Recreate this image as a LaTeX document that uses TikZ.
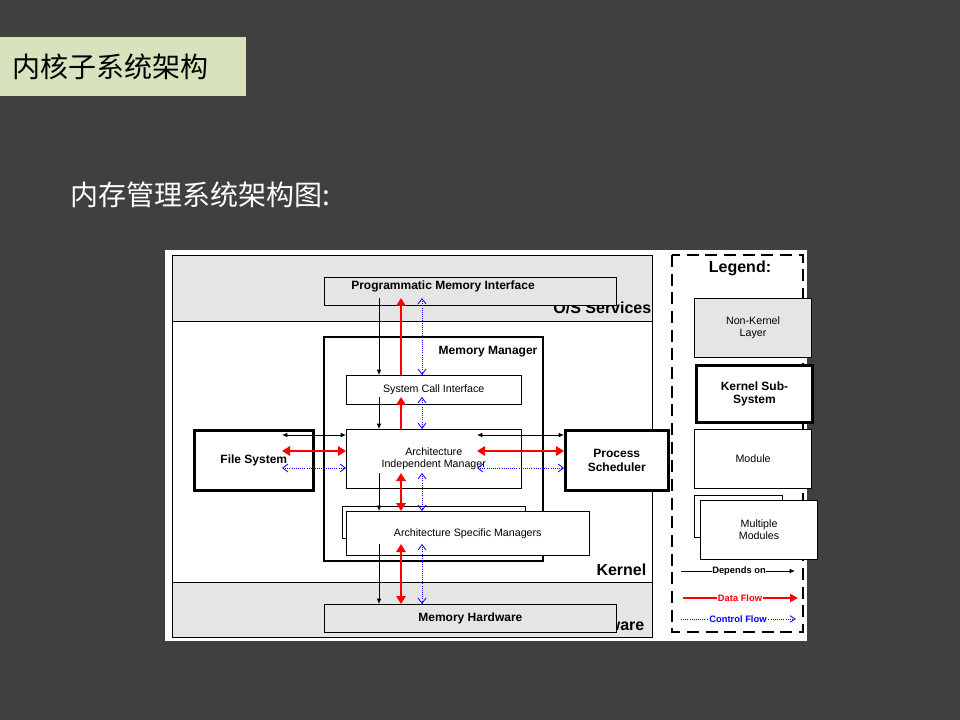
\documentclass[tikz,border=0pt]{standalone}
\usepackage{fontspec}
\setmainfont{Liberation Sans}
\newfontfamily\cjk{Noto Sans CJK SC}
\usetikzlibrary{arrows.meta}
\begin{document}
\begin{tikzpicture}[x=0.75pt,y=-0.75pt,
  box/.style={draw,line width=0.6pt,fill=white,inner sep=0pt},
  kbox/.style={draw,line width=2.2pt,fill=white,inner sep=0pt},
  gbox/.style={draw,line width=0.6pt,fill=black!10,inner sep=0pt},
  dep/.style={line width=0.6pt,-{Latex[length=4pt,width=3.5pt]}},
  ddep/.style={line width=0.6pt,{Latex[length=4pt,width=3.5pt]}-{Latex[length=4pt,width=3.5pt]}},
  data/.style={red,line width=2pt,-{Triangle[length=6pt,width=7pt]}},
  ddata/.style={red,line width=2pt,{Triangle[length=6pt,width=7pt]}-{Triangle[length=6pt,width=7pt]}},
  ctl/.style={blue,line width=0.6pt,densely dotted,{Straight Barb[length=4pt,width=6pt]}-{Straight Barb[length=4pt,width=6pt]}},
  lbl/.style={font=\bfseries\fontsize{9}{10}\selectfont},
  mod/.style={font=\fontsize{8}{9.5}\selectfont,align=center}]
\fill[black!75] (0,0) rectangle (960,720);
\useasboundingbox (0,0) rectangle (960,720);
\fill[fill={rgb,255:red,214;green,227;blue,188}] (0,37) rectangle (246,96);
\node[anchor=west,font=\cjk\fontsize{21}{24}\selectfont] (title) at (8,67) {内核子系统架构};
\node[anchor=west,text=white,font=\cjk\fontsize{21}{24}\selectfont] (sub) at (66,195) {内存管理系统架构图:};
% panel
\fill[white] (165,250) rectangle (807,641);
\draw[line width=0.6pt,fill=white] (172,255) rectangle (652,637);
\draw[line width=0.6pt,fill=black!10] (172,255) rectangle (652,321);
\draw[line width=0.6pt,fill=black!10] (172,582) rectangle (652,637);
\node[anchor=east,font=\bfseries\fontsize{12}{13}\selectfont] (os) at (656,308) {O/S Services};
\node[anchor=east,font=\bfseries\fontsize{12}{13}\selectfont] (kern) at (651,570) {Kernel};
\node[anchor=east,font=\bfseries\fontsize{12}{13}\selectfont] (hw) at (649,625) {Hardware};
% memory manager
\draw[line width=2.2pt] (324,337) rectangle (543,561);
\node[lbl,anchor=west] (mml) at (434,352) {Memory Manager};
\node[gbox,minimum width=219,minimum height=21,anchor=north west] (pmi) at (324,277) {};
\node[lbl] at (443,286) {Programmatic Memory Interface};
\node[box,minimum width=131,minimum height=22,anchor=north west,mod] (sci) at (346,375) {System Call Interface};
\node[box,minimum width=131,minimum height=44,anchor=north west,mod] (aim) at (346,429) {Architecture\\Independent Manager};
\draw[line width=0.6pt,fill=white] (342,506) rectangle (525,538);
\node[box,minimum width=182,minimum height=33,anchor=north west,mod] (asm) at (346,511) {Architecture Specific Managers};
\node[gbox,minimum width=219,minimum height=21,anchor=north west,lbl] (mh) at (324,604) {Memory Hardware};
\node[kbox,minimum width=89,minimum height=45,anchor=north west,lbl] (fs) at (193,429) {File System};
\node[kbox,minimum width=77,minimum height=45,anchor=north west,lbl,align=center] (ps) at (564,429) {Process\\Scheduler};
% vertical connectors
\draw[dep] (379,298) -- (379,375);
\draw[dep] (379,397) -- (379,429);
\draw[dep] (379,473) -- (379,511);
\draw[dep] (379,544) -- (379,604);
\draw[data] (401,375) -- (401,298);
\draw[data] (401,429) -- (401,397);
\draw[ddata] (401,473) -- (401,511);
\draw[ddata] (401,544) -- (401,604);
\draw[ctl] (422,298) -- (422,375);
\draw[ctl] (422,397) -- (422,429);
\draw[ctl] (422,473) -- (422,511);
\draw[ctl] (422,544) -- (422,604);
% horizontal
\draw[ddep] (282,435) -- (346,435);
\draw[ddata] (282,451) -- (346,451);
\draw[ctl] (282,468) -- (346,468);
\draw[ddep] (477,435) -- (564,435);
\draw[ddata] (477,451) -- (564,451);
\draw[ctl] (477,468) -- (564,468);
% legend
\draw[line width=2pt,dash pattern=on 9pt off 5pt] (672,255) rectangle (803,632);
\node[font=\bfseries\fontsize{12}{13}\selectfont] (leg) at (740,268) {Legend:};
\node[gbox,minimum width=88,minimum height=44,anchor=north west,mod] (l1) at (694,298) {Non-Kernel\\Layer};
\node[kbox,minimum width=87,minimum height=43,anchor=north west,lbl,align=center] (l2) at (695,364) {Kernel Sub-\\System};
\node[box,minimum width=88,minimum height=44,anchor=north west,mod] (l3) at (694,429) {Module};
\draw[line width=0.6pt,fill=white] (694,495) rectangle (782,537);
\node[box,minimum width=88,minimum height=44,anchor=north west,mod] (l4) at (700,500) {Multiple\\Modules};
\coordinate (a1) at (681,571); \coordinate (a2) at (795,571);
\draw[dep] (a1) -- (a2);
\node[fill=white,inner sep=0.5pt,font=\bfseries\fontsize{7}{8}\selectfont] at (739,571) {Depends on};
\coordinate (b1) at (683,598); \coordinate (b2) at (798,598);
\draw[red,line width=1.5pt,-{Triangle[length=6pt,width=6pt]}] (b1) -- (b2);
\node[fill=white,inner sep=0.5pt,text=red,font=\bfseries\fontsize{7}{8}\selectfont] at (740,598) {Data Flow};
\coordinate (c1) at (681,619); \coordinate (c2) at (796,619);
\draw[blue,densely dotted,line width=0.6pt,-{Straight Barb[length=4pt,width=5pt]}] (c1) -- (c2);
\node[fill=white,inner sep=0.5pt,text=blue,font=\bfseries\fontsize{7}{8}\selectfont] at (738,619) {Control Flow};
\end{tikzpicture}
\end{document}
